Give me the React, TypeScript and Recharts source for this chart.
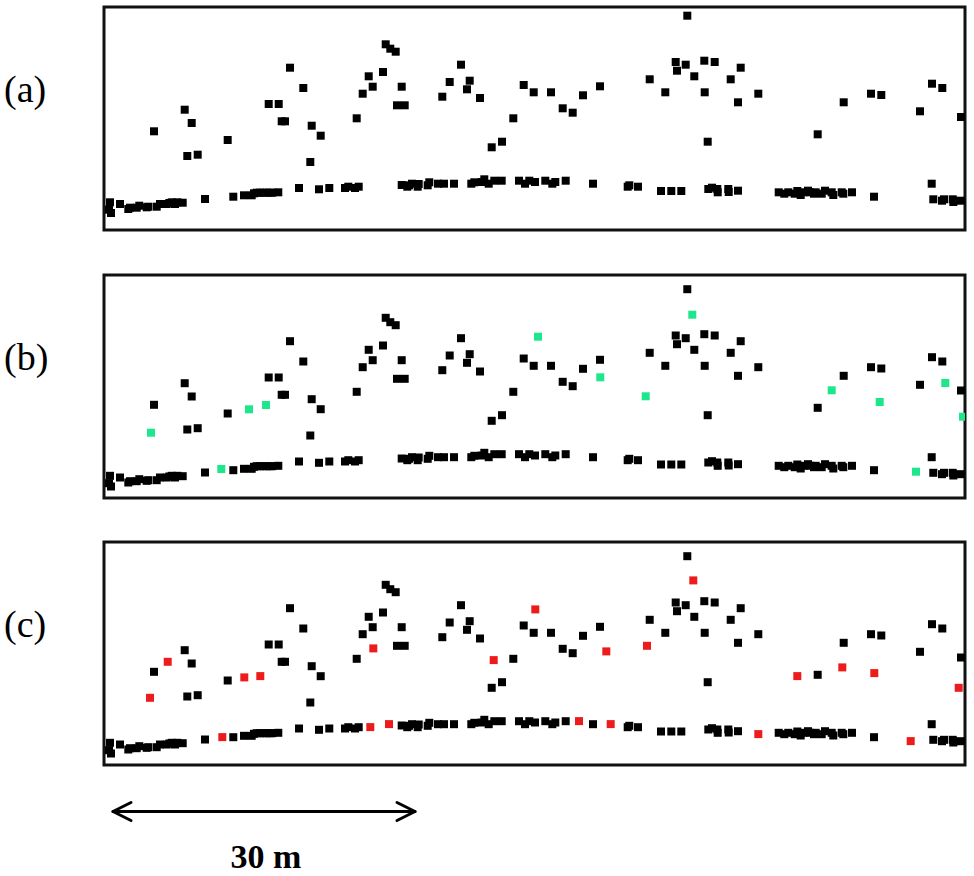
import { ScatterChart, Scatter, XAxis, YAxis, ZAxis, ReferenceArea } from "recharts";

// along-track distance (m) and height (m)
const BLACK_POINTS: [number, number][] = [
  // ground returns
  [0.6, 2.77], [0.5, 2.03], [0.7, 1.7], [1.6, 2.6], [2.43, 2.1], [2.6, 2.23], [3.27, 2.23], [3.53, 2.43],
  [4.27, 2.27], [4.43, 2.33], [5.27, 2.33], [5.6, 2.6], [6.27, 2.6], [6.53, 2.7], [6.77, 2.77], [7.1, 2.6],
  [7.33, 2.77], [7.87, 2.73], [10.1, 3.1], [12.93, 3.33], [14.0, 3.47], [14.77, 3.47], [15.0, 3.67],
  [15.27, 3.73], [15.6, 3.73], [15.93, 3.73], [16.27, 3.73], [16.6, 3.73], [16.83, 3.73], [17.43, 3.77],
  [19.5, 4.2], [21.5, 4.07], [22.53, 4.2], [24.1, 4.2], [24.43, 4.33], [25.1, 4.2], [25.47, 4.33],
  [29.77, 4.5], [30.33, 4.33], [30.5, 4.47], [30.8, 4.63], [31.37, 4.33], [31.47, 4.6], [32.37, 4.47],
  [32.53, 4.77], [33.4, 4.63], [34.0, 4.63], [35.0, 4.63], [36.73, 4.63], [37.03, 4.77], [37.77, 4.8],
  [38.03, 5.07], [38.47, 4.63], [39.03, 4.93], [39.77, 4.93], [41.5, 4.93], [42.1, 4.63], [42.53, 4.93],
  [43.1, 4.8], [44.13, 4.93], [44.83, 4.63], [45.13, 4.8], [46.17, 4.93], [48.9, 4.63], [52.37, 4.33],
  [52.53, 4.47], [53.4, 4.33], [55.7, 3.9], [56.73, 3.9], [57.73, 3.9], [60.43, 4.1], [60.8, 4.23],
  [61.33, 4.1], [61.37, 3.77], [62.43, 4.1], [62.47, 3.8], [63.4, 3.93], [67.47, 3.77], [68.03, 3.63],
  [68.43, 3.77], [69.07, 3.63], [69.33, 3.9], [69.67, 3.5], [69.93, 3.77], [70.4, 3.93], [70.6, 3.77],
  [71.0, 3.63], [71.17, 3.77], [71.77, 3.63], [72.1, 3.93], [72.77, 3.77], [72.93, 3.5], [73.77, 3.77],
  [73.93, 3.63], [74.8, 3.77], [77.0, 3.33], [82.77, 4.63], [82.93, 3.07], [83.8, 2.93], [84.0, 3.07],
  [84.87, 3.07], [84.93, 2.8], [85.03, 2.93], [85.77, 2.93],
  // canopy returns
  [5.0, 9.87], [8.07, 12.03], [8.77, 10.7], [8.33, 7.4], [9.37, 7.53], [12.37, 9.0], [16.47, 12.6],
  [17.47, 12.6], [17.77, 10.87], [18.1, 10.87], [18.6, 16.23], [19.93, 14.2], [20.77, 10.43], [21.67, 9.43],
  [20.63, 6.8], [25.27, 11.17], [25.87, 13.63], [26.47, 15.37], [26.87, 14.33], [27.9, 15.8], [28.17, 18.57],
  [28.63, 18.13], [29.17, 17.83], [29.3, 12.47], [29.77, 14.33], [30.07, 12.47], [33.83, 13.33],
  [34.57, 14.8], [35.7, 16.53], [36.3, 14.07], [36.57, 14.93], [37.6, 13.2], [38.77, 8.27], [39.8, 8.83],
  [40.93, 11.17], [41.97, 14.5], [42.97, 13.77], [44.7, 13.77], [45.87, 12.17], [46.87, 11.73],
  [47.9, 13.47], [49.6, 14.37], [54.57, 15.07], [56.13, 13.77], [57.17, 16.8], [57.3, 15.93], [58.17, 16.53],
  [58.33, 21.43], [60.03, 16.93], [61.07, 16.8], [59.03, 15.37], [62.67, 15.07], [63.67, 16.23],
  [60.07, 13.77], [63.4, 12.77], [65.43, 13.63], [60.37, 8.83], [73.97, 12.77], [76.7, 13.63], [77.73, 13.5],
  [71.37, 9.57], [81.6, 11.87], [82.8, 14.63], [83.83, 14.2], [85.7, 11.3],
];

const GREEN_POINTS: [number, number][] = [
  [4.7, 7.08], [14.5, 9.42], [16.2, 9.85], [11.73, 3.45], [43.4, 16.68], [49.63, 12.62], [54.17, 10.72],
  [58.83, 18.88], [72.77, 11.32], [77.57, 10.15], [84.13, 12.05], [85.9, 8.68], [81.2, 3.18],
];

const RED_POINTS: [number, number][] = [
  [4.6, 7.27], [6.37, 10.87], [14.03, 9.31], [15.63, 9.44], [11.83, 3.34], [26.93, 12.21], [26.63, 4.34],
  [28.5, 4.64], [38.97, 11.04], [43.13, 16.11], [47.5, 4.94], [50.23, 11.91], [50.67, 4.64], [54.3, 12.47],
  [58.93, 19.01], [65.43, 3.64], [69.33, 9.44], [73.83, 10.31], [77.03, 9.74], [80.67, 2.94], [85.47, 8.27],
];

const PANEL_LABELS = ["(a)", "(b)", "(c)"];
const SCALE_LABEL = "30 m";

const toRows = (pts: [number, number][]) => pts.map(([x, y]) => ({ x, y }));

const X_MAX = 86.1;
const SERIF = "'Liberation Serif', 'Times New Roman', serif";
const PANEL_TOPS = [0, 268, 535];

function Panel({
  top,
  yDomain,
  extra,
  extraColor,
}: {
  top: number;
  yDomain: [number, number];
  extra?: [number, number][];
  extraColor?: string;
}) {
  return (
    <div style={{ position: "absolute", left: 0, top, width: 974, height: 240 }}>
      <ScatterChart width={974} height={240} margin={{ top: 7, right: 9, bottom: 10, left: 104 }}>
        <XAxis type="number" dataKey="x" domain={[0, X_MAX]} hide allowDataOverflow />
        <YAxis type="number" dataKey="y" domain={yDomain} hide allowDataOverflow />
        <ZAxis range={[21, 21]} />
        <Scatter data={toRows(BLACK_POINTS)} fill="#000" shape="square" isAnimationActive={false} />
        {extra && (
          <Scatter data={toRows(extra)} fill={extraColor} shape="square" isAnimationActive={false} />
        )}
        <ReferenceArea
          x1={0}
          x2={X_MAX}
          y1={yDomain[0]}
          y2={yDomain[1]}
          fill="none"
          fillOpacity={0}
          stroke="#111"
          strokeWidth={3}
          ifOverflow="visible"
        />
      </ScatterChart>
    </div>
  );
}

export default function App() {
  return (
    <div style={{ position: "absolute", left: 0, top: 0, width: 974, height: 876, background: "#fff" }}>
      <Panel top={PANEL_TOPS[0]} yDomain={[0, 22.3]} />
      <Panel top={PANEL_TOPS[1]} yDomain={[0.55, 22.85]} extra={GREEN_POINTS} extraColor="#1ee68a" />
      <Panel top={PANEL_TOPS[2]} yDomain={[0.55, 22.85]} extra={RED_POINTS} extraColor="#ec1c1c" />
      <svg
        width={974}
        height={876}
        style={{ position: "absolute", left: 0, top: 0, pointerEvents: "none" }}
      >
        {PANEL_LABELS.map((t, i) => (
          <text key={t} x={4} y={102 + PANEL_TOPS[i]} fontFamily={SERIF} fontSize={38} fill="#000">
            {t}
          </text>
        ))}
        <g stroke="#000" strokeWidth={3} fill="none" strokeLinecap="round" strokeLinejoin="round">
          <line x1={113} y1={811.5} x2={415} y2={811.5} />
          <polyline points="131,802.5 113,811.5 131,820.5" />
          <polyline points="397,802.5 415,811.5 397,820.5" />
        </g>
        <text x={266} y={868} textAnchor="middle" fontFamily={SERIF} fontSize={34} fontWeight="bold" fill="#000">
          {SCALE_LABEL}
        </text>
      </svg>
    </div>
  );
}
